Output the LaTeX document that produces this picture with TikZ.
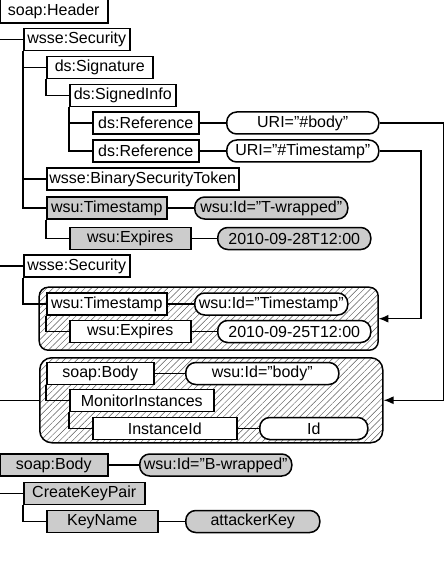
\documentclass[tikz,border=0pt]{standalone}
\usepackage{fontspec}
\setmainfont{Liberation Sans}
\usepackage{tikz}
\usetikzlibrary{arrows.meta,patterns.meta}

\tikzset{
	elem/.style={draw, line width=1.5pt, fill=white, minimum height=22pt, inner sep=0pt, anchor=west},
	attr/.style={elem, rounded corners=10pt},
	forged/.style={fill=gray!40},
	grp/.style={draw, line width=1.5pt, rounded corners=9pt, inner sep=0pt, anchor=north west,
		pattern={Lines[angle=45,distance=4.5pt,line width=0.45pt]}, pattern color=black!65},
	link/.style={line width=1.5pt},
	ref/.style={link, -{Latex[length=10pt,width=8pt]}},
}

\begin{document}
\begin{tikzpicture}[x=1pt,y=-1pt,font=\fontsize{16}{19}\selectfont]
	\useasboundingbox (0,0) rectangle (445,564);
	\coordinate (trunk) at (-1,0);
	\coordinate (rtA) at (443.5,0);
	\coordinate (rtB) at (421,0);

	% signed parts
	\node[grp, minimum width=339pt, minimum height=63pt] (grpT) at (39,287) {};
	\node[grp, minimum width=343pt, minimum height=85pt, rounded corners=12pt] (grpB) at (39,357) {};

	% header
	\node[elem, minimum width=108pt, minimum height=24pt] (hdr) at (-1,11) {soap:Header};
	\node[elem, minimum width=106pt] (secA) at (23,39.5) {wsse:Security};
	\node[elem, minimum width=106pt] (sig) at (46,67.5) {ds:Signature};
	\node[elem, minimum width=106pt] (sinfo) at (69,95.5) {ds:SignedInfo};
	\node[elem, minimum width=106pt] (refA) at (92,123) {ds:Reference};
	\node[attr, minimum width=152pt] (uriA) at (226,123) {URI=”\#body”};
	\node[elem, minimum width=106pt] (refB) at (92,151) {ds:Reference};
	\node[attr, minimum width=152pt] (uriB) at (226,151) {URI=”\#Timestamp”};
	\node[elem, minimum width=192pt] (bst) at (46,179) {wsse:BinarySecurityToken};
	\node[elem, forged, minimum width=120pt] (tsA) at (46,208) {wsu:Timestamp};
	\node[attr, forged, minimum width=153pt] (idA) at (194,208) {wsu:Id=”T-wrapped”};
	\node[elem, forged, minimum width=121pt] (expA) at (69,238.5) {wsu:Expires};
	\node[attr, forged, minimum width=153pt] (dateA) at (217,238.5) {2010-09-28T12:00};

	\node[elem, minimum width=106pt] (secB) at (23,266) {wsse:Security};
	\node[elem, minimum width=120pt] (tsB) at (46,304) {wsu:Timestamp};
	\node[attr, minimum width=153pt] (idB) at (194,304) {wsu:Id=”Timestamp”};
	\node[elem, minimum width=121pt] (expB) at (69,331.5) {wsu:Expires};
	\node[attr, minimum width=153pt] (dateB) at (217,331.5) {2010-09-25T12:00};

	% body
	\node[elem, minimum width=107pt] (bodyA) at (46,373.5) {soap:Body};
	\node[attr, minimum width=153pt] (bid) at (185,373.5) {wsu:Id=”body”};
	\node[elem, minimum width=144pt] (mon) at (69,400.5) {MonitorInstances};
	\node[elem, minimum width=144pt] (iid) at (92,428.5) {InstanceId};
	\node[attr, minimum width=108pt] (idv) at (259,428.5) {Id};

	\node[elem, forged, minimum width=108pt] (bodyB) at (-1,465) {soap:Body};
	\node[attr, forged, minimum width=152pt] (bwr) at (139,465) {wsu:Id=”B-wrapped”};
	\node[elem, forged, minimum width=121pt] (ckp) at (23,493.5) {CreateKeyPair};
	\node[elem, forged, minimum width=111pt] (kname) at (46,521.5) {KeyName};
	\node[attr, forged, minimum width=134pt] (akey) at (185,521.5) {attackerKey};

	% tree
	\draw[link] (hdr.south west) |- (secA.west);
	\draw[link] (hdr.south west) |- (secB.west);
	\draw[link] (secA.south west) |- (sig.west);
	\draw[link] (secA.south west) |- (bst.west);
	\draw[link] (secA.south west) |- (tsA.west);
	\draw[link] (sig.south west) |- (sinfo.west);
	\draw[link] (sinfo.south west) |- (refA.west);
	\draw[link] (sinfo.south west) |- (refB.west);
	\draw[link] (refA) -- (uriA);
	\draw[link] (refB) -- (uriB);
	\draw[link] (tsA) -- (idA);
	\draw[link] (tsA.south west) |- (expA.west);
	\draw[link] (expA) -- (dateA);
	\draw[link] (secB.south west) |- (tsB.west);
	\draw[link] (tsB) -- (idB);
	\draw[link] (tsB.south west) |- (expB.west);
	\draw[link] (expB) -- (dateB);
	\draw[link] (trunk |- grpB.west) -- (grpB.west);
	\draw[link] (bodyA) -- (bid);
	\draw[link] (bodyA.south west) |- (mon.west);
	\draw[link] (mon.south west) |- (iid.west);
	\draw[link] (iid) -- (idv);
	\draw[link] (bodyB) -- (bwr);
	\draw[link] (bodyB.south west) |- (ckp.west);
	\draw[link] (ckp.south west) |- (kname.west);
	\draw[link] (kname) -- (akey);

	% references
	\draw[ref] (uriA.east) -| (rtA |- grpB.east) -- (grpB.east);
	\draw[ref] (uriB.east) -| (rtB |- grpT.east) -- (grpT.east);
\end{tikzpicture}
\end{document}
